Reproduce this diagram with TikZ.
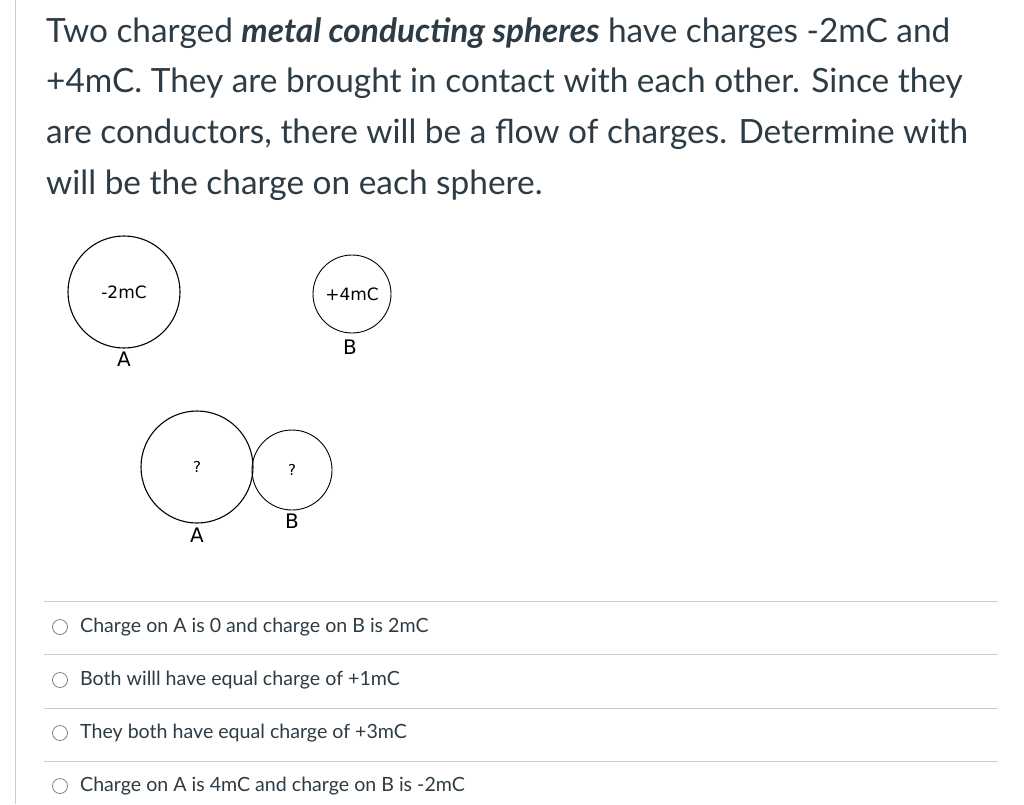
\documentclass[tikz,border=0pt]{standalone}
\usepackage{fontspec}
\setmainfont{Lato}
\newfontfamily\dejavu{DejaVu Sans}
\definecolor{txt}{HTML}{2D3B45}
\definecolor{sep}{HTML}{C7CDD1}
\begin{document}
\begin{tikzpicture}[x=1pt,y=-1pt,
  title/.style={anchor=base west,inner sep=0,text=txt,font=\fontsize{33.4}{34}\selectfont},
  opt/.style={anchor=west,inner sep=0,text=txt,font=\fontsize{19.6}{20}\selectfont},
  ball/.style={draw,circle,line width=1.1pt,inner sep=0},
  lab/.style={font=\dejavu\fontsize{17}{18}\selectfont,inner sep=0},
  ab/.style={font=\dejavu\fontsize{20}{21}\selectfont,inner sep=0},
  q/.style={font=\dejavu\fontsize{15}{16}\selectfont,inner sep=0},
  radio/.style={draw=gray,circle,minimum size=15pt,inner sep=0,line width=0.8pt},
  sepline/.style={draw=sep,line width=0.8pt}]
\useasboundingbox (0,0) rectangle (1024,804);
\draw[draw=sep,line width=1pt] (15,0) -- (15,804);
\node[title] (t1) at (46,42) {Two charged \textbf{\textit{metal conducting spheres}} have charges -2mC and};
\node[title] (t2) at (46,92) {+4mC. They are brought in contact with each other. Since they};
\node[title] (t3) at (46,143) {are conductors, there will be a flow of charges. Determine with};
\node[title] (t4) at (46,194) {will be the charge on each sphere.};
\node[ball,minimum size=112pt] (A1) at (124,292) {};
\node[lab] at (A1) {-2mC};
\node[ab] (a1) at (124,359) {A};
\node[ball,minimum size=78pt,line width=0.9pt] (B1) at (352,294) {};
\node[lab] at (B1) {+4mC};
\node[ab] (b1) at (350,347) {B};
\node[ball,minimum size=112pt] (A2) at (197,467) {};
\node[q] at (A2) {?};
\node[ab] (a2) at (197,535) {A};
\node[ball,minimum size=80pt,line width=0.9pt] (B2) at (292,470) {};
\node[q] at (B2) {?};
\node[ab] (b2) at (292,521) {B};
\foreach \y in {601,654,708,761} \draw[sepline] (44,\y) -- (998,\y);
\foreach \y/\t [count=\i] in {627/Charge on A is 0 and charge on B is 2mC,680/Both willl have equal charge of +1mC,733/They both have equal charge of +3mC,786/Charge on A is 4mC and charge on B is -2mC}{
  \node[radio] (r\i) at (60,\y) {};
  \node[opt] (o\i) at (80,\y) {\t};
}
\end{tikzpicture}
\end{document}
